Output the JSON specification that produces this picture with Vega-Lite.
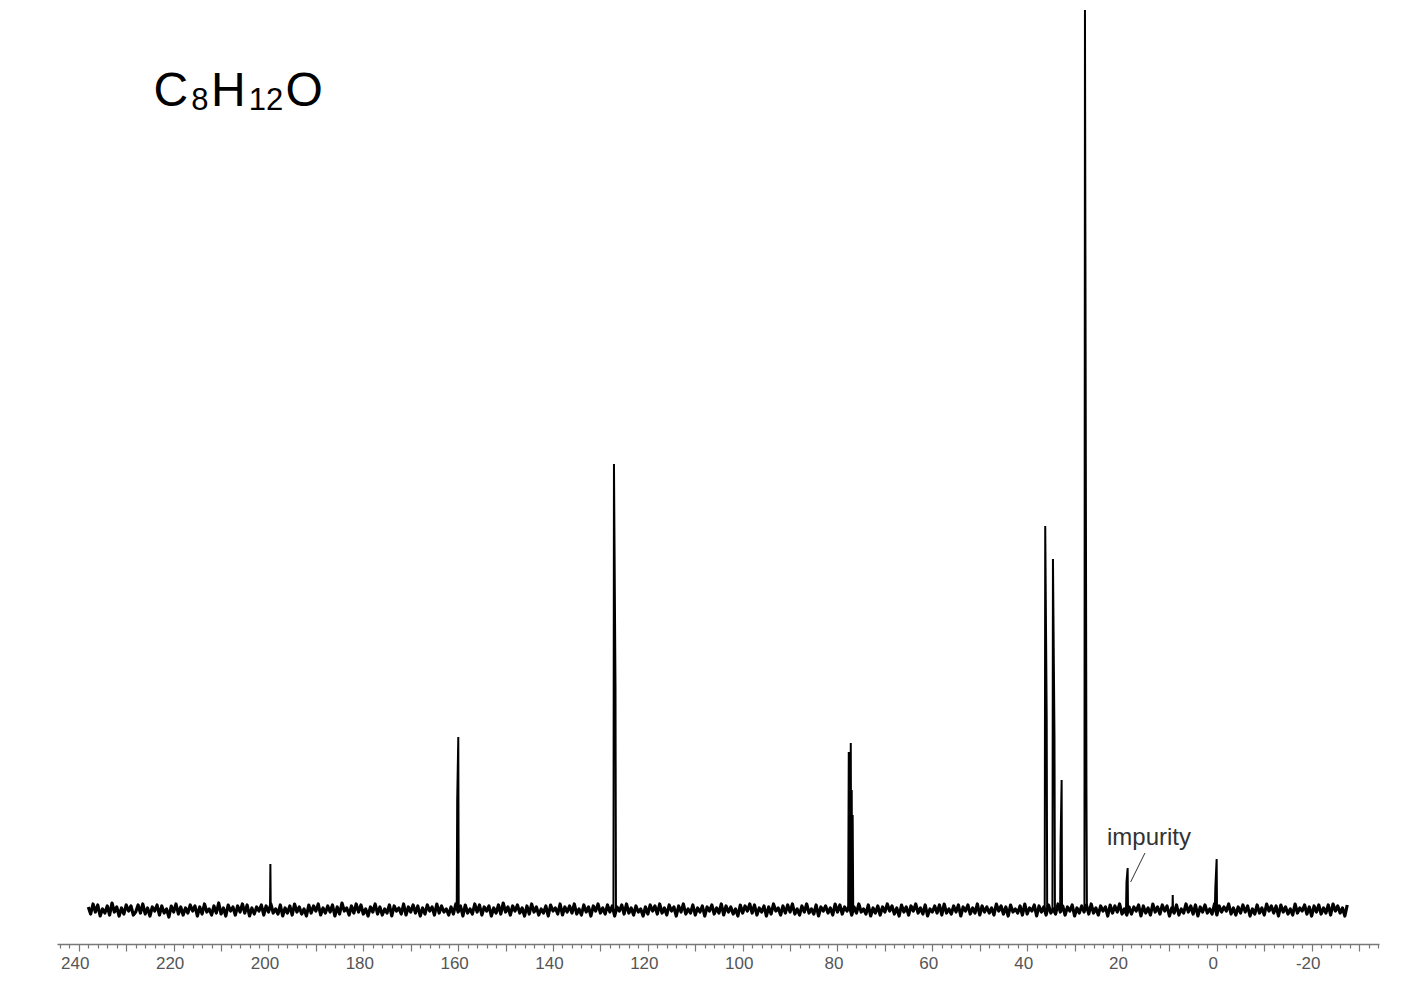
{
"$schema": "https://vega.github.io/schema/vega-lite/v6.json",
"width": 1322,
"height": 939,
"autosize": {"type": "none"},
"padding": {"left": 57, "top": 5, "right": 27, "bottom": 52},
"background": "white",
"config": {"view": {"stroke": null}},
"datasets": {
"noise": [
{"d":238,"i":3},{"d":237.5,"i":-4},{"d":237,"i":6},{"d":236.5,"i":-2},{"d":236,"i":5},{"d":235.5,"i":-6},{"d":235,"i":1},{"d":234.5,"i":-3},{"d":234,"i":4},{"d":233.5,"i":-5},{"d":233,"i":7},{"d":232.5,"i":-2},{"d":232,"i":3},{"d":231.5,"i":-6},{"d":231,"i":2},{"d":230.5,"i":-4},{"d":230,"i":5},{"d":229.5,"i":-1},{"d":229,"i":4},{"d":228.5,"i":-5},
{"d":228,"i":-2},{"d":227.5,"i":5},{"d":227,"i":-3},{"d":226.5,"i":6},{"d":226,"i":-4},{"d":225.5,"i":2},{"d":225,"i":-6},{"d":224.5,"i":3},{"d":224,"i":-1},{"d":223.5,"i":5},{"d":223,"i":-5},{"d":222.5,"i":4},{"d":222,"i":-3},{"d":221.5,"i":1},{"d":221,"i":-7},{"d":220.5,"i":4},{"d":220,"i":-2},{"d":219.5,"i":6},{"d":219,"i":-4},{"d":218.5,"i":3},
{"d":218,"i":-5},{"d":217.5,"i":2},{"d":217,"i":-3},{"d":216.5,"i":5},{"d":216,"i":-1},{"d":215.5,"i":4},{"d":215,"i":-6},{"d":214.5,"i":3},{"d":214,"i":-4},{"d":213.5,"i":6},{"d":213,"i":-2},{"d":212.5,"i":1},{"d":212,"i":-5},{"d":211.5,"i":4},{"d":211,"i":-3},{"d":210.5,"i":7},{"d":210,"i":-4},{"d":209.5,"i":2},{"d":209,"i":-6},{"d":208.5,"i":5},
{"d":208,"i":-1},{"d":207.5,"i":3},{"d":207,"i":-5},{"d":206.5,"i":4},{"d":206,"i":-2},{"d":205.5,"i":6},{"d":205,"i":-3},{"d":204.5,"i":5},{"d":204,"i":-6},{"d":203.5,"i":2},{"d":203,"i":-4},{"d":202.5,"i":3},{"d":202,"i":-1},{"d":201.5,"i":5},{"d":201,"i":-5},{"d":200.5,"i":4},{"d":200,"i":-2},{"d":199.5,"i":6},{"d":199,"i":-3},{"d":198.5,"i":1},
{"d":198,"i":-4},{"d":197.5,"i":5},{"d":197,"i":-6},{"d":196.5,"i":2},{"d":196,"i":-3},{"d":195.5,"i":4},{"d":195,"i":-5},{"d":194.5,"i":6},{"d":194,"i":-2},{"d":193.5,"i":3},{"d":193,"i":-4},{"d":192.5,"i":1},{"d":192,"i":-6},{"d":191.5,"i":5},{"d":191,"i":-3},{"d":190.5,"i":4},{"d":190,"i":-1},{"d":189.5,"i":6},{"d":189,"i":-5},{"d":188.5,"i":2},
{"d":188,"i":-3},{"d":187.5,"i":4},{"d":187,"i":-2},{"d":186.5,"i":5},{"d":186,"i":-6},{"d":185.5,"i":3},{"d":185,"i":-4},{"d":184.5,"i":7},{"d":184,"i":-1},{"d":183.5,"i":2},{"d":183,"i":-5},{"d":182.5,"i":4},{"d":182,"i":-3},{"d":181.5,"i":6},{"d":181,"i":-2},{"d":180.5,"i":5},{"d":180,"i":-4},{"d":179.5,"i":1},{"d":179,"i":-6},{"d":178.5,"i":3},
{"d":178,"i":-2},{"d":177.5,"i":6},{"d":177,"i":-4},{"d":176.5,"i":3},{"d":176,"i":-5},{"d":175.5,"i":1},{"d":175,"i":-3},{"d":174.5,"i":5},{"d":174,"i":-6},{"d":173.5,"i":4},{"d":173,"i":-1},{"d":172.5,"i":2},{"d":172,"i":-4},{"d":171.5,"i":6},{"d":171,"i":-5},{"d":170.5,"i":3},{"d":170,"i":-2},{"d":169.5,"i":5},{"d":169,"i":-3},{"d":168.5,"i":4},
{"d":168,"i":-6},{"d":167.5,"i":2},{"d":167,"i":-4},{"d":166.5,"i":5},{"d":166,"i":-1},{"d":165.5,"i":3},{"d":165,"i":-5},{"d":164.5,"i":6},{"d":164,"i":-3},{"d":163.5,"i":4},{"d":163,"i":-2},{"d":162.5,"i":1},{"d":162,"i":-5},{"d":161.5,"i":3},{"d":161,"i":-4},{"d":160.5,"i":6},{"d":160,"i":-2},{"d":159.5,"i":4},{"d":159,"i":-6},{"d":158.5,"i":5},
{"d":158,"i":-3},{"d":157.5,"i":1},{"d":157,"i":-4},{"d":156.5,"i":6},{"d":156,"i":-2},{"d":155.5,"i":5},{"d":155,"i":-5},{"d":154.5,"i":3},{"d":154,"i":-1},{"d":153.5,"i":4},{"d":153,"i":-6},{"d":152.5,"i":2},{"d":152,"i":-3},{"d":151.5,"i":5},{"d":151,"i":-4},{"d":150.5,"i":7},{"d":150,"i":-2},{"d":149.5,"i":3},{"d":149,"i":-5},{"d":148.5,"i":4},
{"d":148,"i":-1},{"d":147.5,"i":5},{"d":147,"i":-3},{"d":146.5,"i":2},{"d":146,"i":-6},{"d":145.5,"i":4},{"d":145,"i":-4},{"d":144.5,"i":6},{"d":144,"i":-2},{"d":143.5,"i":3},{"d":143,"i":-5},{"d":142.5,"i":1},{"d":142,"i":-3},{"d":141.5,"i":4},{"d":141,"i":-6},{"d":140.5,"i":5},{"d":140,"i":-1},{"d":139.5,"i":2},{"d":139,"i":-4},{"d":138.5,"i":6},
{"d":138,"i":-5},{"d":137.5,"i":3},{"d":137,"i":-2},{"d":136.5,"i":4},{"d":136,"i":-3},{"d":135.5,"i":6},{"d":135,"i":-4},{"d":134.5,"i":1},{"d":134,"i":-5},{"d":133.5,"i":5},{"d":133,"i":-2},{"d":132.5,"i":3},{"d":132,"i":-6},{"d":131.5,"i":4},{"d":131,"i":-1},{"d":130.5,"i":6},{"d":130,"i":-3},{"d":129.5,"i":2},{"d":129,"i":-4},{"d":128.5,"i":5},
{"d":128,"i":-2},{"d":127.5,"i":4},{"d":127,"i":-6},{"d":126.5,"i":3},{"d":126,"i":-1},{"d":125.5,"i":5},{"d":125,"i":-4},{"d":124.5,"i":6},{"d":124,"i":-3},{"d":123.5,"i":2},{"d":123,"i":-5},{"d":122.5,"i":4},{"d":122,"i":-2},{"d":121.5,"i":1},{"d":121,"i":-6},{"d":120.5,"i":3},{"d":120,"i":-4},{"d":119.5,"i":5},{"d":119,"i":-1},{"d":118.5,"i":4},
{"d":118,"i":-4},{"d":117.5,"i":6},{"d":117,"i":-3},{"d":116.5,"i":2},{"d":116,"i":-5},{"d":115.5,"i":5},{"d":115,"i":-1},{"d":114.5,"i":3},{"d":114,"i":-6},{"d":113.5,"i":4},{"d":113,"i":-2},{"d":112.5,"i":6},{"d":112,"i":-4},{"d":111.5,"i":1},{"d":111,"i":-3},{"d":110.5,"i":5},{"d":110,"i":-5},{"d":109.5,"i":2},{"d":109,"i":-2},{"d":108.5,"i":4},
{"d":108,"i":-6},{"d":107.5,"i":3},{"d":107,"i":-1},{"d":106.5,"i":5},{"d":106,"i":-4},{"d":105.5,"i":2},{"d":105,"i":-3},{"d":104.5,"i":6},{"d":104,"i":-5},{"d":103.5,"i":4},{"d":103,"i":-2},{"d":102.5,"i":3},{"d":102,"i":-4},{"d":101.5,"i":1},{"d":101,"i":-6},{"d":100.5,"i":5},{"d":100,"i":-3},{"d":99.5,"i":4},{"d":99,"i":-1},{"d":98.5,"i":6},
{"d":98,"i":-3},{"d":97.5,"i":5},{"d":97,"i":-5},{"d":96.5,"i":2},{"d":96,"i":-2},{"d":95.5,"i":4},{"d":95,"i":-6},{"d":94.5,"i":3},{"d":94,"i":-4},{"d":93.5,"i":6},{"d":93,"i":-1},{"d":92.5,"i":2},{"d":92,"i":-5},{"d":91.5,"i":4},{"d":91,"i":-3},{"d":90.5,"i":5},{"d":90,"i":-2},{"d":89.5,"i":6},{"d":89,"i":-4},{"d":88.5,"i":1},
{"d":88,"i":-5},{"d":87.5,"i":4},{"d":87,"i":-2},{"d":86.5,"i":6},{"d":86,"i":-3},{"d":85.5,"i":1},{"d":85,"i":-4},{"d":84.5,"i":5},{"d":84,"i":-6},{"d":83.5,"i":3},{"d":83,"i":-1},{"d":82.5,"i":4},{"d":82,"i":-3},{"d":81.5,"i":2},{"d":81,"i":-5},{"d":80.5,"i":6},{"d":80,"i":-2},{"d":79.5,"i":5},{"d":79,"i":-4},{"d":78.5,"i":3},
{"d":78,"i":-1},{"d":77.5,"i":4},{"d":77,"i":-5},{"d":76.5,"i":3},{"d":76,"i":-3},{"d":75.5,"i":6},{"d":75,"i":-2},{"d":74.5,"i":1},{"d":74,"i":-4},{"d":73.5,"i":5},{"d":73,"i":-6},{"d":72.5,"i":2},{"d":72,"i":-3},{"d":71.5,"i":4},{"d":71,"i":-5},{"d":70.5,"i":3},{"d":70,"i":-2},{"d":69.5,"i":6},{"d":69,"i":-1},{"d":68.5,"i":4},
{"d":68,"i":-4},{"d":67.5,"i":2},{"d":67,"i":-6},{"d":66.5,"i":5},{"d":66,"i":-2},{"d":65.5,"i":3},{"d":65,"i":-5},{"d":64.5,"i":4},{"d":64,"i":-1},{"d":63.5,"i":6},{"d":63,"i":-3},{"d":62.5,"i":2},{"d":62,"i":-4},{"d":61.5,"i":5},{"d":61,"i":-6},{"d":60.5,"i":1},{"d":60,"i":-2},{"d":59.5,"i":4},{"d":59,"i":-3},{"d":58.5,"i":5},
{"d":58,"i":-5},{"d":57.5,"i":6},{"d":57,"i":-3},{"d":56.5,"i":1},{"d":56,"i":-4},{"d":55.5,"i":4},{"d":55,"i":-2},{"d":54.5,"i":5},{"d":54,"i":-6},{"d":53.5,"i":3},{"d":53,"i":-1},{"d":52.5,"i":5},{"d":52,"i":-4},{"d":51.5,"i":2},{"d":51,"i":-3},{"d":50.5,"i":6},{"d":50,"i":-5},{"d":49.5,"i":4},{"d":49,"i":-2},{"d":48.5,"i":3},
{"d":48,"i":-3},{"d":47.5,"i":2},{"d":47,"i":-5},{"d":46.5,"i":6},{"d":46,"i":-1},{"d":45.5,"i":4},{"d":45,"i":-4},{"d":44.5,"i":3},{"d":44,"i":-6},{"d":43.5,"i":5},{"d":43,"i":-2},{"d":42.5,"i":1},{"d":42,"i":-3},{"d":41.5,"i":4},{"d":41,"i":-5},{"d":40.5,"i":6},{"d":40,"i":-4},{"d":39.5,"i":2},{"d":39,"i":-1},{"d":38.5,"i":5},
{"d":38,"i":-6},{"d":37.5,"i":4},{"d":37,"i":-2},{"d":36.5,"i":3},{"d":36,"i":-5},{"d":35.5,"i":5},{"d":35,"i":-3},{"d":34.5,"i":1},{"d":34,"i":-4},{"d":33.5,"i":6},{"d":33,"i":-2},{"d":32.5,"i":4},{"d":32,"i":-5},{"d":31.5,"i":3},{"d":31,"i":-1},{"d":30.5,"i":5},{"d":30,"i":-6},{"d":29.5,"i":2},{"d":29,"i":-3},{"d":28.5,"i":4},
{"d":28,"i":-2},{"d":27.5,"i":5},{"d":27,"i":-4},{"d":26.5,"i":6},{"d":26,"i":-3},{"d":25.5,"i":2},{"d":25,"i":-5},{"d":24.5,"i":4},{"d":24,"i":-1},{"d":23.5,"i":3},{"d":23,"i":-6},{"d":22.5,"i":5},{"d":22,"i":-3},{"d":21.5,"i":4},{"d":21,"i":-2},{"d":20.5,"i":6},{"d":20,"i":-4},{"d":19.5,"i":1},{"d":19,"i":-5},{"d":18.5,"i":3},
{"d":18,"i":-4},{"d":17.5,"i":3},{"d":17,"i":-1},{"d":16.5,"i":5},{"d":16,"i":-6},{"d":15.5,"i":4},{"d":15,"i":-3},{"d":14.5,"i":2},{"d":14,"i":-5},{"d":13.5,"i":6},{"d":13,"i":-2},{"d":12.5,"i":3},{"d":12,"i":-4},{"d":11.5,"i":5},{"d":11,"i":-1},{"d":10.5,"i":4},{"d":10,"i":-6},{"d":9.5,"i":2},{"d":9,"i":-3},{"d":8.5,"i":5},
{"d":8,"i":-5},{"d":7.5,"i":1},{"d":7,"i":-3},{"d":6.5,"i":6},{"d":6,"i":-2},{"d":5.5,"i":4},{"d":5,"i":-4},{"d":4.5,"i":5},{"d":4,"i":-6},{"d":3.5,"i":3},{"d":3,"i":-2},{"d":2.5,"i":5},{"d":2,"i":-3},{"d":1.5,"i":1},{"d":1,"i":-4},{"d":0.5,"i":6},{"d":0,"i":-5},{"d":-0.5,"i":4},{"d":-1,"i":-2},{"d":-1.5,"i":3},
{"d":-2,"i":-1},{"d":-2.5,"i":6},{"d":-3,"i":-4},{"d":-3.5,"i":2},{"d":-4,"i":-5},{"d":-4.5,"i":3},{"d":-5,"i":-3},{"d":-5.5,"i":5},{"d":-6,"i":-2},{"d":-6.5,"i":4},{"d":-7,"i":-6},{"d":-7.5,"i":1},{"d":-8,"i":-4},{"d":-8.5,"i":5},{"d":-9,"i":-3},{"d":-9.5,"i":2},{"d":-10,"i":-5},{"d":-10.5,"i":6},{"d":-11,"i":-1},{"d":-11.5,"i":4},
{"d":-12,"i":-3},{"d":-12.5,"i":4},{"d":-13,"i":-6},{"d":-13.5,"i":5},{"d":-14,"i":-2},{"d":-14.5,"i":3},{"d":-15,"i":-4},{"d":-15.5,"i":1},{"d":-16,"i":-5},{"d":-16.5,"i":6},{"d":-17,"i":-3},{"d":-17.5,"i":2},{"d":-18,"i":-1},{"d":-18.5,"i":5},{"d":-19,"i":-4},{"d":-19.5,"i":3},{"d":-20,"i":-6},{"d":-20.5,"i":4},{"d":-21,"i":-2},{"d":-21.5,"i":5},
{"d":-22,"i":-4},{"d":-22.5,"i":2},{"d":-23,"i":-3},{"d":-23.5,"i":5},{"d":-24,"i":-5},{"d":-24.5,"i":6},{"d":-25,"i":-1},{"d":-25.5,"i":4},{"d":-26,"i":-3},{"d":-26.5,"i":2},{"d":-27,"i":-6},{"d":-27.5,"i":5}
],
"peaks": [
{"p":1,"d":199.68,"i":0},{"p":1,"d":199.6,"i":46},{"p":1,"d":199.52,"i":0},
{"p":2,"d":160.3,"i":0},{"p":2,"d":160.2,"i":110},{"p":2,"d":159.97,"i":173},{"p":2,"d":159.88,"i":0},
{"p":3,"d":127.25,"i":0},{"p":3,"d":127.14,"i":446},{"p":3,"d":126.82,"i":225},{"p":3,"d":126.72,"i":0},
{"p":4,"d":77.75,"i":0},{"p":4,"d":77.62,"i":158},{"p":4,"d":77.52,"i":0},{"p":4,"d":77.42,"i":150},{"p":4,"d":77.32,"i":5},{"p":4,"d":77.2,"i":167},{"p":4,"d":77.1,"i":0},{"p":4,"d":77.0,"i":120},{"p":4,"d":76.9,"i":0},{"p":4,"d":76.8,"i":95},{"p":4,"d":76.68,"i":0},
{"p":5,"d":36.3,"i":0},{"p":5,"d":36.19,"i":384},{"p":5,"d":35.88,"i":190},{"p":5,"d":35.78,"i":0},
{"p":6,"d":34.67,"i":0},{"p":6,"d":34.56,"i":351},{"p":6,"d":34.24,"i":173},{"p":6,"d":34.14,"i":0},
{"p":7,"d":33.05,"i":0},{"p":7,"d":32.95,"i":68},{"p":7,"d":32.73,"i":130},{"p":7,"d":32.65,"i":0},
{"p":8,"d":27.92,"i":0},{"p":8,"d":27.81,"i":900},{"p":8,"d":27.5,"i":122},{"p":8,"d":27.4,"i":0},
{"p":9,"d":19.15,"i":0},{"p":9,"d":19.05,"i":28},{"p":9,"d":18.81,"i":42},{"p":9,"d":18.73,"i":0},
{"p":10,"d":9.36,"i":0},{"p":10,"d":9.3,"i":15},{"p":10,"d":9.24,"i":0},
{"p":11,"d":0.42,"i":0},{"p":11,"d":0.32,"i":22},{"p":11,"d":0.04,"i":51},{"p":11,"d":-0.04,"i":0}
],
"formula": [
{"d":220.58,"i":804.5,"t":"C"},{"d":208.48,"i":804.5,"t":"H"},{"d":192.47,"i":804.5,"t":"O"}
],
"formulaSub": [
{"d":214.45,"i":800.5,"t":"8"},{"d":200.55,"i":800.5,"t":"12"}
],
"notes": [
{"d":14.3,"i":65,"t":"impurity"}
],
"pointer": [
{"d":18.18,"i":28,"d2":15.16,"i2":57}
]
},
"encoding": {
"x": {"field": "d", "type": "quantitative", "title": null,
 "scale": {"domain": [-34.2, 244.6], "reverse": true, "nice": false, "zero": false},
 "axis": {
  "values": [-34,-32,-30,-28,-26,-24,-22,-20,-18,-16,-14,-12,-10,-8,-6,-4,-2,0,2,4,6,8,10,12,14,16,18,20,22,24,26,28,30,32,34,36,38,40,42,44,46,48,50,52,54,56,58,60,62,64,66,68,70,72,74,76,78,80,82,84,86,88,90,92,94,96,98,100,102,104,106,108,110,112,114,116,118,120,122,124,126,128,130,132,134,136,138,140,142,144,146,148,150,152,154,156,158,160,162,164,166,168,170,172,174,176,178,180,182,184,186,188,190,192,194,196,198,200,202,204,206,208,210,212,214,216,218,220,222,224,226,228,230,232,234,236,238,240,242,244],
  "labelExpr": "datum.value % 20 === 0 ? '' + datum.value : ''",
  "tickSize": {"condition": {"test": "datum.value % 10 === 0", "value": 7}, "value": 4},
  "labelOverlap": false,
  "labelFlush": false,
  "labelFont": "Liberation Sans",
  "labelFontSize": 17,
  "labelColor": "#555555",
  "labelPadding": 4,
  "labelOffset": -4,
  "domainColor": "#777777",
  "domainWidth": 1.5,
  "tickColor": "#777777",
  "tickWidth": 1.2,
  "grid": false
 }},
"y": {"field": "i", "type": "quantitative", "title": null,
 "scale": {"domain": [-34, 905], "nice": false, "zero": false},
 "axis": null}
},
"layer": [
{"data": {"name": "noise"}, "mark": {"type": "line", "color": "black", "strokeWidth": 3.2, "strokeJoin": "round", "clip": true}},
{"data": {"name": "peaks"}, "mark": {"type": "line", "color": "black", "strokeWidth": 2, "clip": true},
 "encoding": {"detail": {"field": "p", "type": "nominal"}}},
{"data": {"name": "pointer"}, "mark": {"type": "rule", "color": "#333333", "strokeWidth": 1},
 "encoding": {"x2": {"field": "d2"}, "y2": {"field": "i2"}}},
{"data": {"name": "notes"}, "mark": {"type": "text", "align": "center", "baseline": "alphabetic", "font": "Liberation Sans", "fontSize": 24, "color": "#333333"},
 "encoding": {"text": {"field": "t"}}},
{"data": {"name": "formula"}, "mark": {"type": "text", "align": "center", "baseline": "alphabetic", "font": "Liberation Sans", "fontSize": 48, "color": "black"},
 "encoding": {"text": {"field": "t"}}},
{"data": {"name": "formulaSub"}, "mark": {"type": "text", "align": "center", "baseline": "alphabetic", "font": "Liberation Sans", "fontSize": 31, "color": "black"},
 "encoding": {"text": {"field": "t"}}}
]
}
